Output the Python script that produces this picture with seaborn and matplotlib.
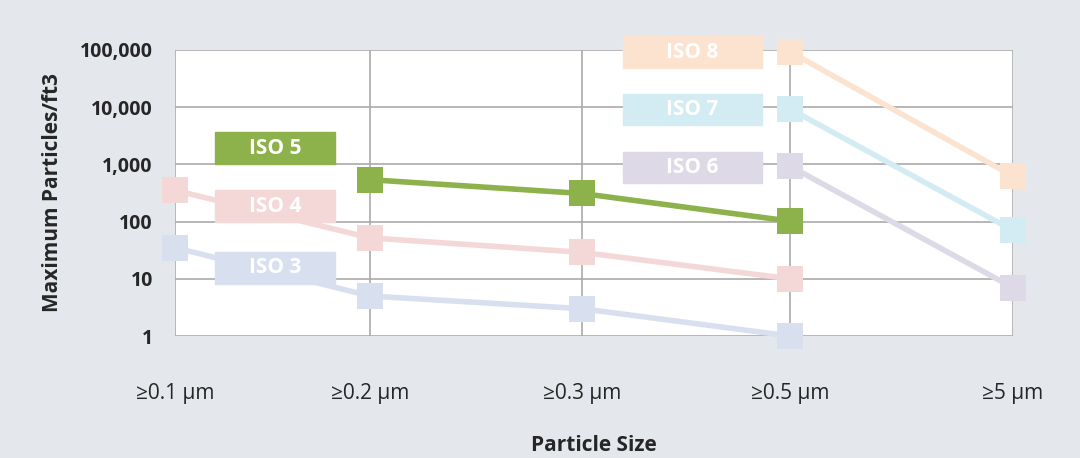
import matplotlib
matplotlib.use("Agg")
import matplotlib.pyplot as plt
import seaborn as sns
import pandas as pd

sizes = ["≥0.1 µm", "≥0.2 µm", "≥0.3 µm", "≥0.5 µm", "≥5 µm"]
size_pos = [0, 1, 2.087, 3.154, 4.297]
iso3 = [35, 5, 3, 1, None]
iso4 = [352, 52, 29, 10, None]
iso5 = [None, 540, 310, 102, None]
iso6 = [None, None, None, 930, 7]
iso7 = [None, None, None, 9300, 70]
iso8 = [None, None, None, 93000, 620]
series = {"ISO 3": iso3, "ISO 4": iso4, "ISO 5": iso5, "ISO 6": iso6, "ISO 7": iso7, "ISO 8": iso8}
colors = {"ISO 3": "#d8e0f0", "ISO 4": "#f4d8d8", "ISO 5": "#8db14b",
          "ISO 6": "#ddd9e7", "ISO 7": "#d3ebf2", "ISO 8": "#fbe3d0"}
label_pos = {"ISO 3": (0.048, 0.238), "ISO 4": (0.048, 0.454), "ISO 5": (0.048, 0.657),
             "ISO 6": (0.535, 0.59), "ISO 7": (0.535, 0.792), "ISO 8": (0.535, 0.993)}

sns.set_style("white")
plt.rcParams["font.family"] = ["Open Sans", "DejaVu Sans"]
fig = plt.figure(figsize=(10.8, 4.58), dpi=100)
fig.patch.set_facecolor("#e4e7ec")
ax = fig.add_axes([175/1080, (458-336)/458, (1013-175)/1080, 286/458])
ax.set_facecolor("white")

order = ["ISO 8", "ISO 7", "ISO 6", "ISO 3", "ISO 4", "ISO 5"]
for name in order:
    vals = series[name]
    df = pd.DataFrame({"x": size_pos, "y": vals}).dropna()
    sns.lineplot(data=df, x="x", y="y", ax=ax, color=colors[name], lw=4,
                 marker="s", markersize=19, markeredgewidth=0, clip_on=False,
                 zorder=5 if name == "ISO 5" else 3)
    x0, yc = label_pos[name]
    w = 0.143 if name in ("ISO 3", "ISO 4", "ISO 5") else 0.165
    ax.add_patch(plt.Rectangle((x0, yc - 0.055), w, 0.11, transform=ax.transAxes,
                               color=colors[name], zorder=4, clip_on=False))
    ax.text(x0 + w/2, yc, name, transform=ax.transAxes, ha="center", va="center",
            color="white", fontsize=15, fontweight="bold", zorder=6)

ax.set_yscale("log")
ax.set_ylim(1, 1e5)
ax.set_xlim(0, size_pos[-1])
ax.set_yticks([1, 10, 100, 1000, 10000, 100000])
ax.set_yticklabels(["1", "10", "100", "1,000", "10,000", "100,000"], fontweight="bold", fontsize=14)
ax.minorticks_off()
ax.set_xticks(size_pos)
ax.set_xticklabels(sizes, fontsize=15)
ax.tick_params(axis="x", pad=28, length=6, color="#999999")
ax.tick_params(axis="y", pad=10, length=6, color="#999999")
ax.grid(True, color="#aaaaaa", lw=1.2)
ax.set_axisbelow(True)
for s in ax.spines.values():
    s.set_visible(False)
ax.set_xlabel("Particle Size", fontsize=15, fontweight="bold", labelpad=22)
ax.set_ylabel("Maximum Particles/ft3", fontsize=15, fontweight="bold", labelpad=12)
fig.savefig("out.png", dpi=100, facecolor=fig.get_facecolor())
